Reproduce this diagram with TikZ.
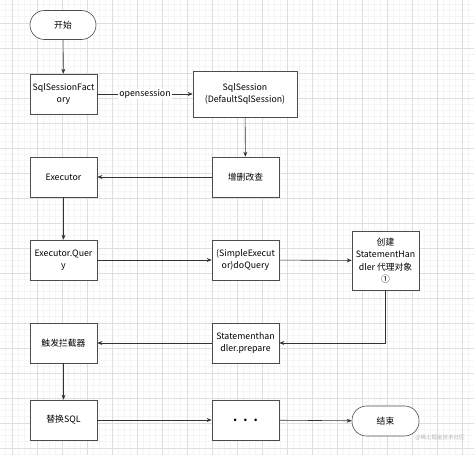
\documentclass[tikz,border=0pt]{standalone}
\usepackage{fontspec}
\setmainfont{Noto Sans CJK SC}
\usetikzlibrary{arrows.meta}
\begin{document}
\begin{tikzpicture}[x=1pt,y=-1pt,
  box/.style={draw=black!70, line width=0.6pt, fill=white, minimum width=67pt, minimum height=40pt,
    align=center, font=\fontsize{8.8}{12.5}\selectfont, inner sep=1pt},
  term/.style={box, rounded corners=14.5pt, minimum height=29pt, minimum width=66pt},
  link/.style={draw=black!80, line width=0.6pt, -{Stealth[length=5pt,width=4pt]}},
  minorgrid/.style={draw=black!4, line width=0.3pt},
  majorgrid/.style={draw=black!13, line width=0.4pt}]
\useasboundingbox (0,0) rectangle (474,455);
\fill[white] (0,0) rectangle (474,455);
% grid
\foreach \i in {0,...,76} {
  \draw[minorgrid] ({5.45+6.25*\i},0) -- ++(0,455);
  \draw[minorgrid] (0,{4+6.25*\i}) -- ++(474,0);
}
\foreach \i in {0,...,19} {
  \draw[majorgrid] ({11.7+25*\i},0) -- ++(0,455);
  \draw[majorgrid] (0,{-2.3+25*\i}) -- ++(474,0);
}
% nodes
\node[term] (start) at (63,25) {开始};
\node[box] (fac) at (63.5,94) {SqlSessionFact\\ory};
\node[box, minimum width=104pt, minimum height=46pt] (sess) at (245,94) {SqlSession\\(DefaultSqlSession)};
\node[box] (crud) at (245.5,177) {增删改查};
\node[box] (exe) at (63.5,177) {Executor};
\node[box] (query) at (63.5,260) {Executor.Quer\\y};
\node[box] (doq) at (245.5,260) {(SimpleExecut\\or)doQuery};
\node[box, minimum height=59pt] (create) at (385.5,260.5) {创建\\StatementHan\\dler 代理对象\\①};
\node[box] (prep) at (245.5,343) {Statementhan\\dler.prepare};
\node[box] (inter) at (63.5,343) {触发拦截器};
\node[box] (repl) at (63.5,420) {替换SQL};
\node[box, font=\fontsize{12}{12}\selectfont\bfseries] (dots) at (245.5,420) {.\hspace{6pt}.\hspace{6pt}.};
\node[term, minimum width=67pt, minimum height=30pt] (end) at (385.5,421) {结束};
% edges
\draw[link] (start) -- (fac);
\draw[link] (fac) -- node[fill=white, inner sep=1pt, font=\fontsize{8.8}{10}\selectfont] {opensession} (sess);
\draw[link] (sess) -- (crud);
\draw[link] (crud) -- (exe);
\draw[link] (exe) -- (query);
\draw[link] (query) -- (doq);
\draw[link] (doq) -- (create);
\draw[link] (create.south) |- (prep.east);
\draw[link] (prep) -- (inter);
\draw[link] (inter) -- (repl);
\draw[link] (repl) -- (dots);
\draw[link] (dots) -- (end);
% watermark
\node[text=black!30, font=\fontsize{5.5}{6}\selectfont, inner sep=0pt] (wm) at (440,437.5) {@稀土掘金技术社区};
\end{tikzpicture}
\end{document}
